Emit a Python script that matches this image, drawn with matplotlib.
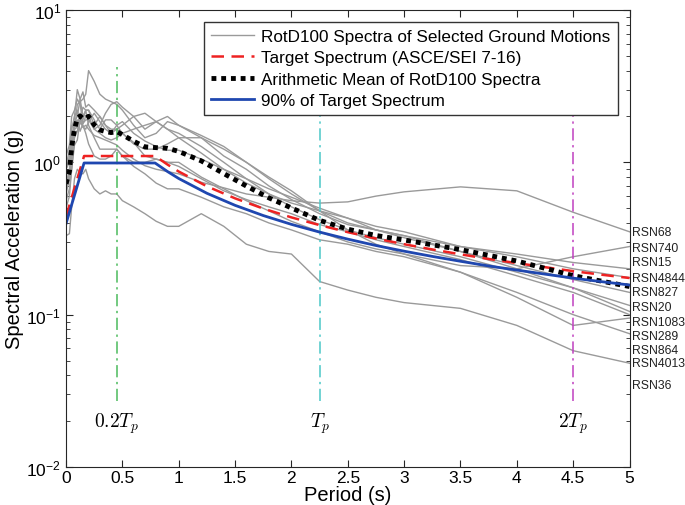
import numpy as np
import matplotlib
matplotlib.use('Agg')
import matplotlib.pyplot as plt
from matplotlib.ticker import LogLocator, NullFormatter, FixedLocator

plt.rcParams['font.family'] = ['Liberation Sans', 'DejaVu Sans']
plt.rcParams['mathtext.fontset'] = 'cm'

# periods (s) at which the record spectra were read
periods = [0, 0.03, 0.05, 0.075, 0.1, 0.125, 0.15, 0.175, 0.2, 0.25, 0.3, 0.35, 0.4, 0.45, 0.5,
           0.6, 0.7, 0.8, 0.9, 1.0, 1.2, 1.4, 1.6, 1.8, 2.0, 2.25, 2.5, 2.75, 3.0, 3.5, 4.0, 4.5, 5.0]

rsn68 = [0.7, 0.85, 1.05, 1.55, 1.6, 1.9, 1.7, 1.75, 1.65, 1.5, 1.45, 1.4, 1.35, 1.3, 1.2, 1.05, 0.95,
         0.9, 0.87, 0.84, 0.74, 0.68, 0.62, 0.59, 0.56, 0.54, 0.55, 0.6, 0.64, 0.69, 0.65, 0.47, 0.35]
rsn740 = [0.5, 0.6, 0.9, 1.3, 1.4, 1.9, 2.3, 2.2, 2.2, 1.9, 1.65, 1.9, 1.9, 1.75, 1.55, 1.35, 1.1,
          1.05, 1.0, 1.0, 0.8, 0.67, 0.56, 0.48, 0.41, 0.35, 0.3, 0.27, 0.25, 0.21, 0.2, 0.24, 0.28]
rsn15 = [0.9, 1.0, 1.45, 1.6, 2.4, 2.5, 2.6, 2.8, 4.0, 3.4, 2.8, 2.6, 2.5, 2.4, 2.2, 1.75, 1.45,
         1.55, 1.85, 1.75, 1.45, 1.1, 0.9, 0.7, 0.57, 0.46, 0.39, 0.36, 0.33, 0.28, 0.25, 0.22, 0.2]
rsn4844 = [0.9, 1.1, 1.65, 2.0, 3.0, 2.6, 2.0, 2.2, 2.2, 1.75, 2.0, 1.75, 1.55, 1.65, 1.75, 2.0, 2.1,
           1.85, 1.65, 1.45, 1.15, 0.9, 0.73, 0.62, 0.54, 0.48, 0.43, 0.38, 0.35, 0.28, 0.24, 0.2, 0.175]
rsn827 = [1.1, 1.3, 2.0, 2.2, 2.6, 2.4, 1.8, 1.9, 1.9, 1.65, 1.75, 2.1, 2.4, 2.5, 2.3, 2.0, 1.65,
          1.85, 2.0, 1.75, 1.5, 1.27, 1.0, 0.78, 0.62, 0.48, 0.4, 0.36, 0.33, 0.26, 0.21, 0.17, 0.14]
rsn20 = [0.62, 0.78, 1.1, 1.65, 1.7, 2.1, 1.7, 1.65, 1.85, 2.1, 1.85, 1.65, 1.55, 1.75, 1.85, 1.55, 1.38,
         1.27, 1.2, 1.2, 1.05, 0.9, 0.78, 0.67, 0.59, 0.5, 0.43, 0.36, 0.32, 0.26, 0.2, 0.15, 0.115]
rsn1083 = [0.95, 1.2, 1.75, 1.8, 1.9, 1.6, 1.8, 2.0, 2.0, 1.65, 1.55, 1.45, 1.4, 1.45, 1.55, 1.65, 1.75,
           1.85, 1.65, 1.55, 1.27, 1.0, 0.78, 0.62, 0.51, 0.42, 0.36, 0.32, 0.29, 0.24, 0.19, 0.15, 0.105]
rsn289 = [0.56, 0.67, 0.9, 1.45, 1.6, 1.9, 1.9, 2.2, 1.75, 1.45, 1.22, 1.22, 1.22, 1.22, 1.1, 1.0, 1.0,
          1.05, 1.0, 0.94, 0.78, 0.65, 0.57, 0.51, 0.46, 0.39, 0.35, 0.31, 0.28, 0.23, 0.18, 0.14, 0.1]
rsn864 = [0.67, 0.84, 1.2, 1.85, 2.0, 2.6, 2.9, 2.3, 2.4, 2.2, 2.0, 1.75, 1.65, 1.65, 1.55, 1.32, 1.22,
          1.22, 1.32, 1.45, 1.45, 1.22, 1.0, 0.8, 0.65, 0.48, 0.36, 0.29, 0.25, 0.19, 0.13, 0.085, 0.095]
rsn4013 = [0.72, 0.9, 1.32, 2.0, 2.2, 1.8, 1.75, 1.55, 1.32, 1.1, 1.05, 1.05, 1.1, 1.22, 1.1, 0.94, 0.84,
           0.73, 0.67, 0.67, 0.59, 0.51, 0.46, 0.4, 0.36, 0.31, 0.29, 0.26, 0.24, 0.19, 0.14, 0.1, 0.075]
rsn36 = [0.33, 0.34, 0.51, 0.78, 0.9, 0.85, 0.84, 0.9, 0.78, 0.67, 0.62, 0.65, 0.62, 0.62, 0.56, 0.51, 0.46,
         0.41, 0.38, 0.38, 0.46, 0.38, 0.29, 0.26, 0.25, 0.165, 0.145, 0.13, 0.12, 0.11, 0.085, 0.058, 0.048]

records = [rsn68, rsn740, rsn15, rsn4844, rsn827, rsn20, rsn1083, rsn289, rsn864, rsn4013, rsn36]

# target spectrum (ASCE/SEI 7-16)
target_T = [0, 0.16, 0.79, 0.9, 1.0, 1.25, 1.5, 1.75, 2.0, 2.25, 2.5, 2.75, 3.0, 3.25, 3.5,
            3.75, 4.0, 4.25, 4.5, 4.75, 5.0]
target_Sa = [0.44, 1.1, 1.1, 0.967, 0.87, 0.696, 0.58, 0.497, 0.435, 0.387, 0.348, 0.316, 0.29,
             0.268, 0.249, 0.232, 0.218, 0.205, 0.193, 0.183, 0.174]

# record names and where their tags sit at the right edge
rsn_names = ['RSN68', 'RSN740', 'RSN15', 'RSN4844', 'RSN827', 'RSN20', 'RSN1083',
             'RSN289', 'RSN864', 'RSN4013', 'RSN36']
rsn_tag_y = [0.349, 0.2745, 0.2225, 0.175, 0.14, 0.1117, 0.0893, 0.0724, 0.0587, 0.0483, 0.0347]

# reference periods
Tp = 2.25
ref_T = [0.2 * Tp, Tp, 2 * Tp]
ref_labels = [r'$0.2T_p$', r'$T_p$', r'$2T_p$']
ref_colors = ['#4cbb5c', '#4cc8c8', '#c040c0']

fig = plt.figure(figsize=(6.85, 5.06), dpi=100)
ax = fig.add_axes([0.0964, 0.0751, 0.8226, 0.9032])

gray = '#9a9a9a'
for i, rec in enumerate(records):
    ax.plot(periods, rec, color=gray, lw=1.0,
            label='RotD100 Spectra of Selected Ground Motions' if i == 0 else None)

for t, lab, c in zip(ref_T, ref_labels, ref_colors):
    ax.plot([t, t], [0.027, 4.2], color=c, lw=1.1, dashes=(8, 3, 1.5, 3))
    ax.text(t, 0.0195, lab, ha='center', va='center', fontsize=14)

ax.plot(target_T, target_Sa, color='#ee2222', lw=1.8, dashes=(5, 3),
        label='Target Spectrum (ASCE/SEI 7-16)')
mean_sa = np.mean(np.array(records), axis=0)
ax.plot(periods, mean_sa, color='black', lw=3.5, dashes=(1, 1), dash_capstyle='butt',
        label='Arithmetic Mean of RotD100 Spectra')
ax.plot(target_T, 0.9 * np.array(target_Sa), color='#1f47b0', lw=2.0,
        label='90% of Target Spectrum')

for name, yv in zip(rsn_names, rsn_tag_y):
    ax.text(5.02, yv, name, ha='left', va='center', fontsize=8.8, color='#222222', clip_on=False)

ax.set_yscale('log')
ax.set_xlim(0, 5)
ax.set_ylim(0.01, 10)
ax.xaxis.set_major_locator(FixedLocator(np.arange(0, 5.01, 0.5)))
ax.set_xticklabels(['0', '0.5', '1', '1.5', '2', '2.5', '3', '3.5', '4', '4.5', '5'])
ax.yaxis.set_major_locator(LogLocator(base=10, numticks=10))
ax.yaxis.set_minor_locator(LogLocator(base=10, subs=np.arange(2, 10), numticks=10))
ax.yaxis.set_minor_formatter(NullFormatter())
ax.tick_params(which='both', direction='in', top=True, right=True, labelsize=12.5, color='#262626')
ax.tick_params(axis='x', pad=2)
ax.tick_params(which='major', length=5)
ax.tick_params(which='minor', length=3)
for s in ax.spines.values():
    s.set_color('#262626')
    s.set_linewidth(0.8)

ax.set_xlabel('Period (s)', fontsize=14.5, labelpad=0)
ax.set_ylabel('Spectral Acceleration (g)', fontsize=14.5, labelpad=2)

leg = ax.legend(loc='upper right', fontsize=12.3, fancybox=False, framealpha=1,
                edgecolor='#333333', handlelength=2.5, handletextpad=0.45,
                labelspacing=0.38, borderaxespad=0.7, borderpad=0.4)
leg.get_frame().set_linewidth(1.0)

fig.savefig('out.png', dpi=100)
